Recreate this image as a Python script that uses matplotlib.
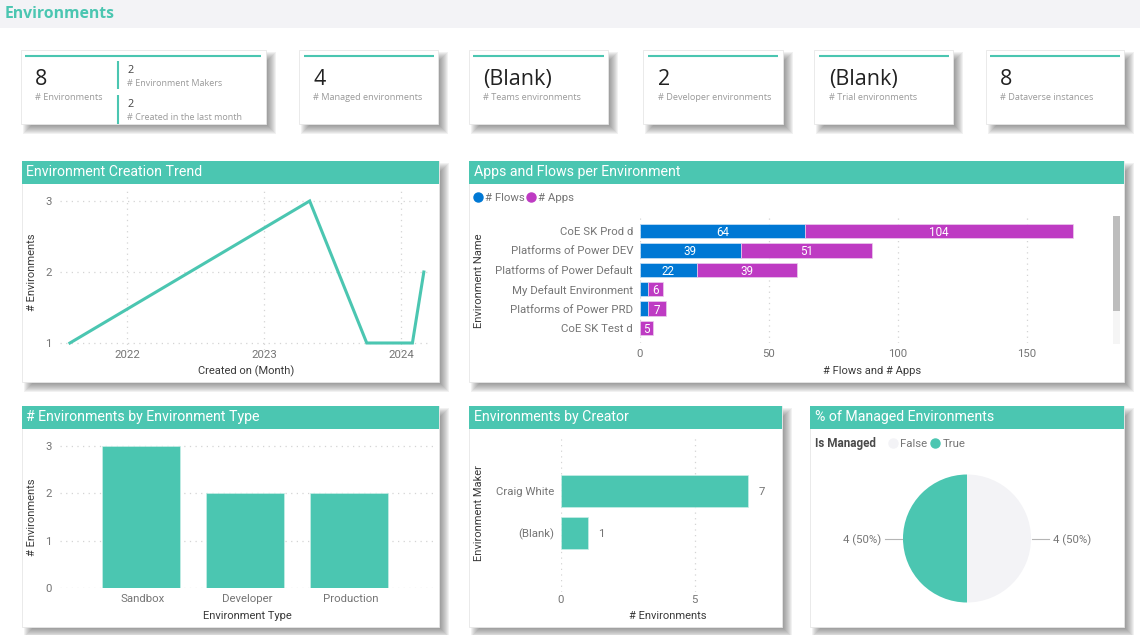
import matplotlib
matplotlib.use("Agg")
import matplotlib.pyplot as plt
from matplotlib.lines import Line2D
from matplotlib.patches import Rectangle
from matplotlib.transforms import ScaledTranslation

plt.rcParams['font.family'] = ['Roboto', 'DejaVu Sans']

# data
card_values = ["4", "(Blank)", "2", "(Blank)", "8"]
card_labels = ["# Managed environments", "# Teams environments", "# Developer environments",
               "# Trial environments", "# Dataverse instances"]
total_envs = "8"
env_makers = "2"
created_last_month = "2"

trend_year = [2021, 2023, 2023, 2024, 2024]
trend_month = [8, 5, 10, 2, 3]
trend_count = [1, 3, 1, 1, 2]

env_names = ["CoE SK Prod d", "Platforms of Power DEV", "Platforms of Power Default",
             "My Default Environment", "Platforms of Power PRD", "CoE SK Test d"]
flows = [64, 39, 22, 3, 3, 0]
apps = [104, 51, 39, 6, 7, 5]

env_types = ["Sandbox", "Developer", "Production"]
type_counts = [3, 2, 2]

makers = ["Craig White", "(Blank)"]
maker_counts = [7, 1]

managed_labels = ["False", "True"]
managed_counts = [4, 4]

TEAL = "#4BC6B1"
BLUE = "#0078D4"
MAGENTA = "#BE3BC3"
LIGHT = "#F3F3F6"
TICK = "#757575"
LABEL = "#3a3a3a"
GRID = "#d4d4d4"
CARD_FONT = ['Open Sans', 'DejaVu Sans']
W, H = 1140, 635

fig = plt.figure(figsize=(W / 100, H / 100), dpi=100, facecolor="white")
bg = fig.add_axes([0, 0, 1, 1], zorder=0)
bg.set_xlim(0, W)
bg.set_ylim(H, 0)
bg.axis("off")


def px_axes(x0, y0, x1, y1):
    ax = fig.add_axes([x0 / W, 1 - y1 / H, (x1 - x0) / W, (y1 - y0) / H], zorder=2)
    ax.patch.set_alpha(0)
    for s in ax.spines.values():
        s.set_visible(False)
    ax.tick_params(length=0, labelcolor=TICK, labelsize=8.2)
    return ax


def box(x0, y0, x1, y1):
    # soft shadow, then white card
    for i in range(4, -5, -1):
        bg.add_patch(Rectangle((x0 + 6 - i, y0 + 6 - i), x1 - x0 + 2 * i, y1 - y0 + 2 * i,
                               fc="#444444", ec="none", alpha=0.07))
    bg.add_patch(Rectangle((x0, y0), x1 - x0, y1 - y0, fc="white", ec="#e6e6e6", lw=0.6))


def panel(x0, y0, x1, y1, title):
    box(x0, y0, x1, y1)
    bg.add_patch(Rectangle((x0, y0), x1 - x0, 23, fc=TEAL, ec="none"))
    bg.text(x0 + 5, y0 + 9.5, title, color="white", fontsize=10.2, va="center_baseline")


def axis_titles(ax, xlabel, xpos, ylabel, ypos):
    ax.set_xlabel(xlabel, color=LABEL, fontsize=8, va="center", ha="center")
    ax.xaxis.set_label_coords(xpos[0], xpos[1], transform=bg.transData)
    ax.set_ylabel(ylabel, color=LABEL, fontsize=8, va="center", ha="center", rotation=90)
    ax.yaxis.set_label_coords(ypos[0], ypos[1], transform=bg.transData)


def dotted(ax, axis):
    ax.set_axisbelow(True)
    ax.grid(True, axis=axis, color=GRID, lw=0.9, linestyle=(0, (1, 3.5)))


def card_text(x, y, s, color, size):
    bg.text(x, y, s, color=color, fontsize=size, va="center_baseline", family=CARD_FONT)


# top band
bg.add_patch(Rectangle((0, 0), W, 28, fc=LIGHT, ec="none"))
bg.text(5, 12.5, "Environments", color=TEAL, fontsize=11.3, fontweight="bold", va="center_baseline",
        family=CARD_FONT)

# first card
box(21, 50, 266, 124)
bg.plot([25, 261], [55.5, 55.5], color=TEAL, lw=1.5, solid_capstyle="butt")
card_text(35, 77, total_envs, "#222222", 15.5)
card_text(35, 97, "# Environments", "#999999", 6.6)
bg.plot([117.5, 117.5], [61, 89], color=TEAL, lw=1.5, solid_capstyle="butt")
bg.plot([117.5, 117.5], [95, 124], color=TEAL, lw=1.5, solid_capstyle="butt")
card_text(127, 69, env_makers, "#444444", 7.8)
card_text(127, 83, "# Environment Makers", "#999999", 6.5)
card_text(127, 103, created_last_month, "#444444", 7.8)
card_text(127, 117, "# Created in the last month", "#999999", 6.5)

# other cards
card_x = [(299, 438, 304, 434, 313), (469, 608, 473, 604, 483), (643, 783, 648, 778, 658),
          (814, 953, 819, 949, 829), (986, 1124, 990, 1120, 1000)]
for (x0, x1, l0, l1, tx), v, lab in zip(card_x, card_values, card_labels):
    box(x0, 50, x1, 124)
    bg.plot([l0, l1], [55.5, 55.5], color=TEAL, lw=1.5, solid_capstyle="butt")
    card_text(tx, 77, v, "#222222", 15.5)
    card_text(tx, 97, lab, "#999999", 6.6)

# panels
panel(21.5, 161, 438.5, 381.5, "Environment Creation Trend")
panel(469, 161, 1124, 381.5, "Apps and Flows per Environment")
panel(21.5, 406, 438.5, 627, "# Environments by Environment Type")
panel(469, 406, 782, 627, "Environments by Creator")
panel(810, 406, 1124, 627, "% of Managed Environments")

# trend line
ax = px_axes(60, 190, 428, 350)
trend_x = [y + (m - 1) / 12 for y, m in zip(trend_year, trend_month)]
ax.plot(trend_x, trend_count, color=TEAL, lw=2.2, solid_joinstyle="miter", clip_on=False)
ax.set_xlim(2022 - 67 / 137, 2022 + 301 / 137)
ax.set_ylim(1 - 7 / 71, 3 + 11 / 71)
ax.set_xticks([2022, 2023, 2024])
ax.set_yticks([1, 2, 3])
ax.tick_params(axis="x", pad=0)
ax.tick_params(axis="y", pad=6)
dotted(ax, "both")
axis_titles(ax, "Created on (Month)", (246, 371), "# Environments", (32, 272))

# stacked bars
ax = px_axes(640, 218, 1110, 343)
rows = range(len(env_names))
ax.barh(rows, flows, height=0.74, color=BLUE, edgecolor="#cfe4f7", linewidth=0.5)
ax.barh(rows, apps, left=flows, height=0.74, color=MAGENTA, edgecolor="#eccdee", linewidth=0.5)
for i in rows:
    if flows[i] > 5:
        ax.text(flows[i] / 2, i, str(flows[i]), color="white", fontsize=8.4, ha="center", va="center_baseline")
    ax.text(flows[i] + apps[i] / 2, i, str(apps[i]), color="white", fontsize=8.4, ha="center", va="center_baseline")
ax.set_yticks(list(rows), env_names)
ax.set_xlim(0, 470 / 2.58)
ax.set_ylim((343 - 231) / 19.4, -13 / 19.4)
ax.set_xticks([0, 50, 100, 150])
ax.tick_params(axis="y", pad=5)
ax.tick_params(axis="x", pad=4)
dotted(ax, "x")
axis_titles(ax, "# Flows and # Apps", (872, 371), "Environment Name", (479, 281))
bg.add_patch(Rectangle((1113, 216), 7, 128, fc="#f5f5f5", ec="none"))
bg.add_patch(Rectangle((1113, 216), 7, 95, fc="#bdbdbd", ec="none"))
fig.legend(handles=[Line2D([], [], ls="", marker="o", ms=6.5, color=BLUE, label="# Flows"),
                    Line2D([], [], ls="", marker="o", ms=6.5, color=MAGENTA, label="# Apps")],
           loc="center left", bbox_to_anchor=(474, 198), bbox_transform=bg.transData, frameon=False,
           ncol=2, fontsize=8.2, labelcolor=TICK, handlelength=0.7, handletextpad=0.25, columnspacing=0.25,
           borderpad=0, borderaxespad=0)

# type columns
ax = px_axes(60, 440, 433, 588)
ax.bar(env_types, type_counts, width=0.757, color=TEAL, edgecolor="#c9eee7", linewidth=0.5)
ax.set_xlim((60 - 141) / 104, (433 - 141) / 104)
ax.set_ylim(0, 3 + 6 / 47.3)
ax.set_yticks([0, 1, 2, 3])
ax.tick_params(axis="x", pad=4)
ax.tick_params(axis="y", pad=6)
for t in ax.get_xticklabels():
    t.set_transform(t.get_transform() + ScaledTranslation(2 / 100, 0, fig.dpi_scale_trans))
dotted(ax, "y")
axis_titles(ax, "Environment Type", (247, 616), "# Environments", (32, 517))

# creator bars
ax = px_axes(561, 437, 770, 592)
ypos = range(len(makers))
ax.barh(ypos, maker_counts, height=0.757, color=TEAL, edgecolor="#c9eee7", linewidth=0.5)
for i in ypos:
    ax.text(maker_counts[i] + 0.38, i, str(maker_counts[i]), color=TICK, fontsize=8.2, ha="left", va="center_baseline")
ax.set_yticks(list(ypos), makers)
ax.set_xlim(0, 209 / 26.76)
ax.set_ylim((592 - 490.7) / 42.3, -(490.7 - 437) / 42.3)
ax.set_xticks([0, 5])
ax.tick_params(axis="y", pad=5)
ax.tick_params(axis="x", pad=2)
dotted(ax, "x")
axis_titles(ax, "# Environments", (668, 616), "Environment Maker", (479, 513))

# pie
ax = px_axes(903, 474.5, 1031, 602.5)
total = sum(managed_counts)
pie_labels = [f"{v} ({v / total:.0%})" for v in managed_counts]
ax.pie(managed_counts, colors=[LIGHT, TEAL], startangle=90, counterclock=False, radius=1,
       labels=pie_labels, labeldistance=1.34,
       textprops={"color": TICK, "fontsize": 8.2, "clip_on": False, "va": "center_baseline"})
ax.set_xlim(-1, 1)
ax.set_ylim(-1, 1)
ax.plot([1.02, 1.28], [0, 0], color="#b5b5b5", lw=0.8, clip_on=False)
ax.plot([-1.02, -1.28], [0, 0], color="#b5b5b5", lw=0.8, clip_on=False)
bg.text(815, 442, "Is Managed", color="#4a4a4a", fontsize=8.4, fontweight="bold", va="center_baseline")
fig.legend(handles=[Line2D([], [], ls="", marker="o", ms=6.5, color=LIGHT, label=managed_labels[0]),
                    Line2D([], [], ls="", marker="o", ms=6.5, color=TEAL, label=managed_labels[1])],
           loc="center left", bbox_to_anchor=(889, 444), bbox_transform=bg.transData, frameon=False,
           ncol=2, fontsize=8.2, labelcolor=TICK, handlelength=0.7, handletextpad=0.25, columnspacing=0.4,
           borderpad=0, borderaxespad=0)

fig.savefig("out.png", dpi=100)
